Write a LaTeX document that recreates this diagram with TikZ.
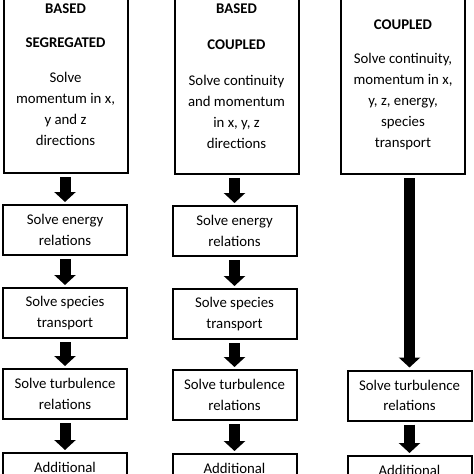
\documentclass[tikz,border=0pt]{standalone}
\usepackage{fontspec}
\setmainfont{Carlito}
\usetikzlibrary{arrows.meta}

\begin{document}
\begin{tikzpicture}[x=1pt, y=-1pt,
        box/.style={draw, line width=2pt, minimum width=124pt, minimum height=50pt,
            inner sep=0pt, align=center, font=\fontsize{14.8}{20.5}\selectfont},
        tall/.style={draw, line width=2pt, minimum width=124pt, minimum height=204pt, inner sep=0pt},
        txt/.style={align=center, font=\fontsize{14.8}{21}\selectfont},
        hdr/.style={font=\fontsize{14.8}{21}\selectfont\bfseries},
        fat/.style={line width=11pt, -{Triangle[width=21pt,length=10pt]},
            shorten <=3pt, shorten >=2pt}]
        \useasboundingbox (0, 0) rectangle (474, 474);
        \clip (0, 0) rectangle (474, 474);

        % segregated
        \node[tall] (seg) at (65.5, 71) {};
        \node[hdr] (segA) at (65.5, 9) {BASED};
        \node[hdr] (segB) at (65.5, 43) {SEGREGATED};
        \node[txt] (segC) at (65.5, 108.5) {Solve\\momentum in x,\\y and z\\directions};
        \node[box] (eA) at (65, 230) {Solve energy\\relations};
        \node[box] (sA) at (65, 313) {Solve species\\transport};
        \node[box] (tA) at (65, 394) {Solve turbulence\\relations};
        \node[box] (aA) at (65, 478) {Additional\\\phantom{x}};

        % coupled
        \node[tall] (cpl) at (236.5, 72) {};
        \node[hdr] (cplA) at (236.5, 9) {BASED};
        \node[hdr] (cplB) at (236.5, 45) {COUPLED};
        \node[txt] (cplC) at (236.5, 111.5) {Solve continuity\\and momentum\\in x, y, z\\directions};
        \node[box] (eB) at (234.5, 231) {Solve energy\\relations};
        \node[box] (sB) at (234.5, 314) {Solve species\\transport};
        \node[box] (tB) at (234.5, 395) {Solve turbulence\\relations};
        \node[box] (aB) at (234.5, 479) {Additional\\\phantom{x}};

        % density coupled
        \node[tall] (den) at (403, 72) {};
        \node[hdr] (denA) at (403, 25) {COUPLED};
        \node[txt] (denB) at (403, 101.5) {Solve continuity,\\momentum in x,\\y, z, energy,\\species\\transport};
        \node[box] (tC) at (409.5, 395.5) {Solve turbulence\\relations};
        \node[box] (aC) at (409.5, 481) {Additional\\\phantom{x}};

        \draw[fat] (eA.north |- seg.south) -- (eA.north);
        \draw[fat] (eA) -- (sA);
        \draw[fat] (sA) -- (tA);
        \draw[fat] (tA) -- (aA);

        \draw[fat] (eB.north |- cpl.south) -- (eB.north);
        \draw[fat] (eB) -- (sB);
        \draw[fat] (sB) -- (tB);
        \draw[fat] (tB) -- (aB);

        \draw[fat] (tC.north |- den.south) -- (tC.north);
        \draw[fat] (tC) -- (aC);
    \end{tikzpicture}
\end{document}
